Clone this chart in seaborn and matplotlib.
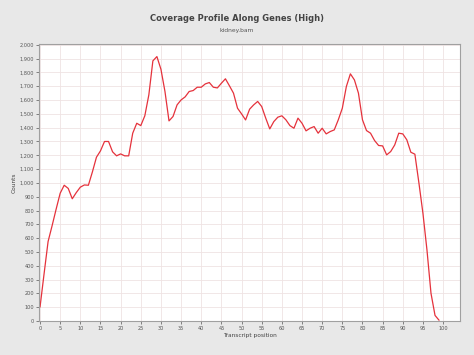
import numpy as np
import pandas as pd
import seaborn as sns
import matplotlib.pyplot as plt
from matplotlib.ticker import MultipleLocator, FuncFormatter

# Coverage profile values (one per transcript position 0..99)
positions = list(range(100))
counts = [
    100, 340, 575, 690, 810, 925, 983, 960, 885, 930,
    969, 985, 983, 1080, 1186, 1232, 1300, 1300, 1225, 1196,
    1210, 1196, 1196, 1360, 1432, 1415, 1486, 1638, 1884, 1915,
    1823, 1662, 1449, 1481, 1565, 1601, 1623, 1662, 1669, 1693,
    1693, 1717, 1727, 1693, 1688, 1722, 1754, 1703, 1650, 1541,
    1500, 1456, 1534, 1565, 1590, 1553, 1469, 1391, 1444, 1476,
    1486, 1457, 1415, 1396, 1469, 1432, 1377, 1396, 1408, 1360,
    1396, 1355, 1372, 1384, 1457, 1541, 1698, 1790, 1746, 1650,
    1457, 1379, 1360, 1307, 1271, 1268, 1203, 1227, 1275, 1360,
    1355, 1312, 1222, 1208, 1000, 780, 514, 200, 40, 5,
]

title = "Coverage Profile Along Genes (High)"
subtitle = "kidney.bam"
x_label = "Transcript position"
y_label = "Counts"

df = pd.DataFrame({"position": positions, "count": counts})

sns.set_style("white")
plt.rcParams["font.family"] = ["DejaVu Sans"]

fig = plt.figure(figsize=(4.74, 3.55), dpi=100)
fig.patch.set_facecolor("#e8e8e8")
ax = fig.add_axes([0.0823, 0.0944, 0.8882, 0.7816])
ax.set_facecolor("white")

sns.lineplot(data=df, x="position", y="count", ax=ax, color="#e5323c", linewidth=0.9)

ax.set_xlim(-0.25, 104.2)
ax.set_ylim(-4, 2006)
ax.xaxis.set_major_locator(MultipleLocator(5))
ax.yaxis.set_major_locator(MultipleLocator(100))
ax.yaxis.set_major_formatter(FuncFormatter(lambda v, p: f"{int(v):,}"))

ax.grid(True, color="#efe3e3", linewidth=0.6)
for s in ax.spines.values():
    s.set_color("#a0a0a0")
    s.set_linewidth(0.8)

ax.tick_params(axis="both", labelsize=3.6, colors="#555555", length=2, width=0.5,
               pad=1.5, direction="out", bottom=True, left=True)
ax.set_xlabel(x_label, fontsize=4.2, color="#444444", labelpad=1)
ax.set_ylabel(y_label, fontsize=4.2, color="#444444", labelpad=2)

fig.text(0.5, 0.948, title, ha="center", va="center", fontsize=6.0,
         fontweight="bold", color="#444444")
fig.text(0.5, 0.913, subtitle, ha="center", va="center", fontsize=4.3, color="#555555")

fig.savefig("out.png", dpi=100, facecolor=fig.get_facecolor())
